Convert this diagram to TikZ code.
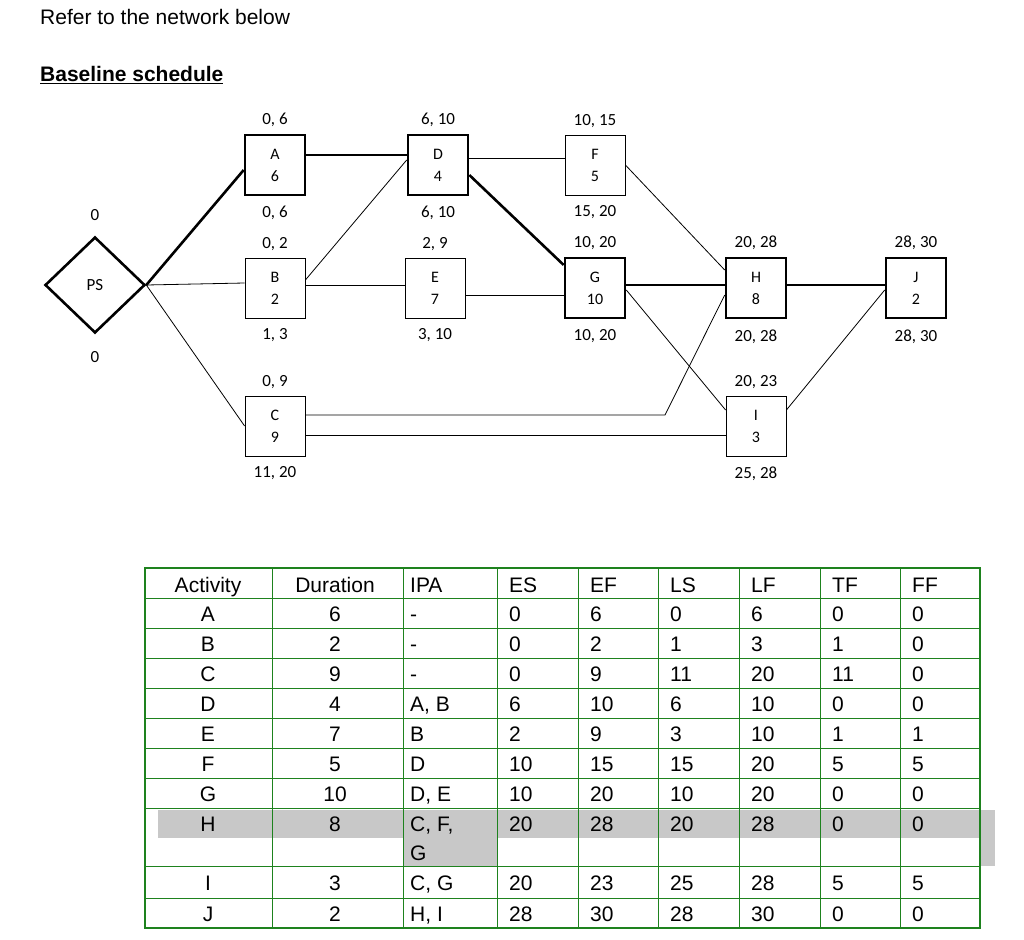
\documentclass[tikz,border=0pt]{standalone}
\usepackage{fontspec}
\setmainfont{Liberation Sans}
\newfontfamily\carlf{Carlito}
\usetikzlibrary{shapes.geometric}
\definecolor{tg}{RGB}{30,130,30}
\definecolor{hl}{RGB}{200,200,200}
\begin{document}
\begin{tikzpicture}[x=1pt,y=-1pt,
 box/.style={draw,line width=0.8pt,minimum width=60pt,minimum height=60pt,inner sep=0pt},
 crit/.style={box,line width=2.6pt},
 lab/.style={font=\carlf\fontsize{17}{18}\selectfont,inner sep=0pt},
 thin/.style={line width=0.8pt},
 thick/.style={line width=2.6pt},
 tt/.style={font=\fontsize{21}{22}\selectfont,inner sep=0pt,anchor=base west},
 ttc/.style={font=\fontsize{21}{22}\selectfont,inner sep=0pt,anchor=base}]
\useasboundingbox (0,0) rectangle (1024,939);
\node[anchor=base west,inner sep=0pt,font=\fontsize{21}{22}\selectfont] (t1) at (40,25) {Refer to the network below};
\node[anchor=base west,inner sep=0pt,font=\bfseries\fontsize{21}{22}\selectfont] (t2) at (40,82) {\underline{Baseline schedule}};
% nodes
\newcommand\myact[7]{\node[#2,align=center,font=\carlf\fontsize{16}{22}\selectfont] (#1) at (#3) {#4\\#5};
 \node[lab] (#1t) at ([yshift=14pt]#1.north) {#6};
 \node[lab] (#1b) at ([yshift=-17pt]#1.south) {#7};}
\myact{A}{crit}{275,165}{A}{6}{0, 6}{0, 6}
\myact{D}{crit}{438,165}{D}{4}{6, 10}{6, 10}
\myact{F}{box}{595,165}{F}{5}{10, 15}{15, 20}
\myact{B}{box}{275,288}{B}{2}{0, 2}{1, 3}
\myact{E}{box}{435,288}{E}{7}{2, 9}{3, 10}
\myact{G}{crit}{595,288}{G}{10}{10, 20}{10, 20}
\myact{H}{crit}{756,288}{H}{8}{20, 28}{20, 28}
\myact{J}{crit}{916,288}{J}{2}{28, 30}{28, 30}
\myact{C}{box}{275,426}{C}{9}{0, 9}{11, 20}
\myact{I}{box}{756,426}{I}{3}{20, 23}{25, 28}
\node[diamond,draw,line width=2.6pt,minimum width=100pt,minimum height=96pt,inner sep=0pt,font=\carlf\fontsize{17}{18}\selectfont] (PS) at (95,285) {PS};
\node[lab] (PSt) at (95,215) {0};
\node[lab] (PSb) at (95,357) {0};
\coordinate (bend) at (665,415);
% connectors
\draw[thick] (PS.east) -- ([yshift=-5pt]A.west);
\draw[thick] ([yshift=10pt]A.east) -- ([yshift=10pt]D.west);
\draw[thin] (PS.east) -- ([yshift=5pt]B.west);
\draw[thin] (PS.east) -- (C.west);
\draw[thin] ([yshift=8pt]B.east) -- ([yshift=5pt]D.west);
\draw[thin] ([yshift=3pt]B.east) -- ([yshift=3pt]E.west);
\draw[thin] ([yshift=7pt]D.east) -- ([yshift=7pt]F.west);
\draw[thick] ([yshift=-10pt]D.east) -- ([yshift=23pt]G.west);
\draw[thin] ([yshift=-7pt]E.east) -- ([yshift=-7pt]G.west);
\draw[thin] (F.east) -- ([yshift=18pt]H.west);
\draw[thick] ([yshift=3pt]G.east) -- ([yshift=3pt]H.west);
\draw[thin] ([yshift=-2pt]G.east) -- ([yshift=16pt]I.west);
\draw[thin] ([yshift=11pt]C.east) -- (bend) -- ([yshift=-7pt]H.west);
\draw[thin] ([yshift=-9pt]C.east) -- ([yshift=-9pt]I.west);
\draw[thick] ([yshift=3pt]H.east) -- ([yshift=3pt]J.west);
\draw[thin] ([yshift=16pt]I.east) -- ([yshift=-2pt]J.west);
% table highlight
\fill[hl] (158,810) rectangle (995,838);
\fill[hl] (403,810) rectangle (497,866);
\fill[hl] (980,810) rectangle (995,866);
% table grid
\foreach \y in {598,628,658,688,718,748,778,808,866,898}{\draw[tg,line width=1pt] (145,\y) -- (980,\y);}
\foreach \x in {272,403,497,578,658,739,820,900}{\draw[tg,line width=1pt] (\x,568) -- (\x,928);}
\draw[tg,line width=2.2pt] (145,568) rectangle (980,928);
% table text
\newcommand\mytrow[2]{\foreach \a/\b/\c/\d/\e/\f/\g/\h/\i in {#2}{
 \node[ttc] at (208,#1) {\a}; \node[ttc] at (335,#1) {\b}; \node[tt] at (410,#1) {\c};
 \node[tt] at (509,#1) {\d}; \node[tt] at (590,#1) {\e}; \node[tt] at (670,#1) {\f};
 \node[tt] at (751,#1) {\g}; \node[tt] at (832,#1) {\h}; \node[tt] at (912,#1) {\i};}}
\mytrow{592}{Activity/Duration/IPA/ES/EF/LS/LF/TF/FF}
\mytrow{621}{A/6/-/0/6/0/6/0/0}
\mytrow{651}{B/2/-/0/2/1/3/1/0}
\mytrow{681}{C/9/-/0/9/11/20/11/0}
\mytrow{711}{D/4/{A, B}/6/10/6/10/0/0}
\mytrow{741}{E/7/B/2/9/3/10/1/1}
\mytrow{771}{F/5/D/10/15/15/20/5/5}
\mytrow{801}{G/10/{D, E}/10/20/10/20/0/0}
\mytrow{831}{H/8/{C, F,}/20/28/20/28/0/0}
\node[tt] (hg) at (410,860) {G};
\mytrow{890}{I/3/{C, G}/20/23/25/28/5/5}
\mytrow{921}{J/2/{H, I}/28/30/28/30/0/0}
\end{tikzpicture}
\end{document}
